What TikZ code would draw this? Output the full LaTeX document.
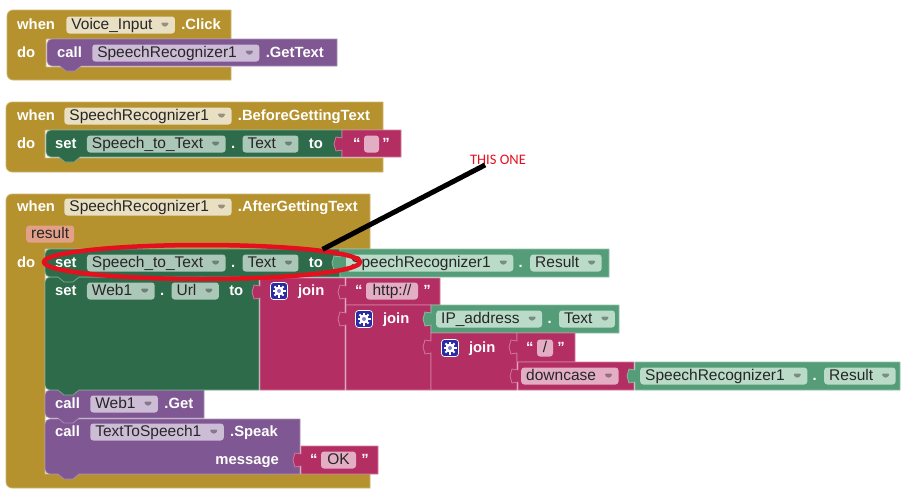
\documentclass[tikz,border=0pt]{standalone}
\usepackage{fontspec}
\setmainfont{Liberation Sans}
\newfontfamily\notefont{Carlito}
\usepackage{tikz}
\usetikzlibrary{positioning}
\usetikzlibrary{calc}
\usetikzlibrary{shapes.geometric}

\definecolor{hatgold}{HTML}{B5922E}
\definecolor{hatedge}{HTML}{CDB672}
\definecolor{pillgold}{HTML}{E9DFC2}
\definecolor{setgreen}{HTML}{2E6B4A}
\definecolor{setedge}{HTML}{7FA892}
\definecolor{pillgreen}{HTML}{ABC7B7}
\definecolor{getgreen}{HTML}{559C78}
\definecolor{getedge}{HTML}{8FC0A6}
\definecolor{pillmint}{HTML}{BADBC8}
\definecolor{callpurple}{HTML}{7F5792}
\definecolor{calledge}{HTML}{A98FB6}
\definecolor{pillpurple}{HTML}{CDBCD6}
\definecolor{textpink}{HTML}{B32E62}
\definecolor{textedge}{HTML}{D27FA0}
\definecolor{pillpink}{HTML}{E3AEC4}
\definecolor{argsalmon}{HTML}{E3A088}
\definecolor{gearblue}{HTML}{2B2BA3}
\definecolor{markred}{HTML}{E5101E}

\newcommand{\droptri}{\hspace{7.5pt}\tikz[baseline=0pt]\fill[black,opacity=.35] (0pt,7pt) -- (10pt,7pt) -- (5pt,1.5pt) -- cycle;}
% stacked statement block, with its tab at the bottom
\newcommand{\stmtblock}[5]{\draw[#1] (#4,#3) -- (#4,#5) -- (#2+34,#5) -- (#2+28,#5+5) -- (#2+19,#5+5) -- (#2+13,#5) [rounded corners=5pt] -- (#2,#5) -- (#2,#3) [sharp corners] -- cycle;}
% value block, with its plug on the left
\newcommand{\valblock}[5]{\draw[#1] (#2,#3) -- (#4,#3) -- (#4,#5) -- (#2,#5) -- (#2,#3+20) -- (#2-6,#3+21) -- (#2-8,#3+14) -- (#2-6,#3+7) -- (#2,#3+8) -- cycle;}
% hat block, C shaped round the blocks it holds
\newcommand{\hatblock}[6]{\draw[hat] (#3,#5) -- (#3,#6) [rounded corners=6pt] -- (#1,#6) -- (#1,#2) [sharp corners] -- (#3,#2) -- (#3,#4) -- (#1+39,#4) -- (#1+39,#5) -- cycle;}
\newcommand{\gearicon}[2]{
  \node[gearbox] (#1) at (#2) {};
  \foreach \a in {0,45,...,315} \draw[white,line width=2pt] (#1.center) -- ++(\a:6.5);
  \fill[white] (#1.center) circle (4.5);
  \fill[gearblue!60] (#1.center) circle (2);
}

\tikzset{
  hat/.style={fill=hatgold, draw=hatedge, line width=.7pt},
  setb/.style={fill=setgreen, draw=setedge, line width=.7pt},
  callb/.style={fill=callpurple, draw=calledge, line width=.7pt},
  getb/.style={fill=getgreen, draw=getedge, line width=.7pt},
  textb/.style={fill=textpink, draw=textedge, line width=.7pt},
  kw/.style={text=white, inner sep=0pt, text height=11.5pt, text depth=2.5pt, font=\bfseries\fontsize{14.8}{17}\selectfont},
  pill/.style={rounded corners=3pt, inner xsep=5pt, inner ysep=1.5pt, text=black!85, text height=11.5pt, text depth=2.5pt, font=\fontsize{15.5}{18}\selectfont},
  gpill/.style={pill, fill=pillgold},
  spill/.style={pill, fill=pillgreen},
  mpill/.style={pill, fill=pillmint},
  cpill/.style={pill, fill=pillpurple},
  tpill/.style={pill, fill=pillpink},
  gearbox/.style={draw=white, fill=gearblue, rounded corners=3pt, line width=.7pt, minimum size=17pt, inner sep=0pt},
}

\begin{document}
\begin{tikzpicture}[x=1pt,y=-1pt]
  \useasboundingbox (0,0) rectangle (916,501);

  % first handler
  \hatblock{7}{10}{231}{39}{67}{80}
  \stmtblock{callb}{47}{39}{337}{66}
  \node[kw, anchor=west] (when1) at (17,25) {when};
  \node[gpill, right=11pt of when1] (voice) {Voice\_Input\droptri};
  \node[kw, right=6pt of voice] (click) {.Click};
  \node[kw, anchor=west] (do1) at (17,53) {do};
  \node[kw, anchor=west] (call1) at (57,53) {call};
  \node[cpill, right=10pt of call1] (recog1) {SpeechRecognizer1\droptri};
  \node[kw, right=6pt of recog1] (gettext) {.GetText};

  % second handler
  \hatblock{6}{102}{383}{130}{158}{172}
  \stmtblock{setb}{46}{130}{342}{157}
  \valblock{textb}{342}{130}{401}{157}
  \node[kw, anchor=west] (when2) at (17,116) {when};
  \node[gpill, right=9pt of when2] (recog2) {SpeechRecognizer1\droptri};
  \node[kw, right=6pt of recog2] (before) {.BeforeGettingText};
  \node[kw, anchor=west] (do2) at (17,144) {do};
  \node[kw, anchor=west] (set2) at (55,144) {set};
  \node[spill, right=10pt of set2] (stt2) {Speech\_to\_Text\droptri};
  \node[kw, right=5pt of stt2] (dot2) {.};
  \node[spill, right=7pt of dot2] (text2) {Text\droptri};
  \node[kw, right=10pt of text2] (to2) {to};
  \node[kw, anchor=west] (open2) at (353,144) {“};
  \node[tpill, minimum width=15pt, right=3pt of open2] (empty2) {};
  \node[kw, right=3pt of empty2] (close2) {”};

  % third handler
  \hatblock{6}{194}{370}{249}{474}{488}
  \stmtblock{callb}{45}{419}{300}{474}
  \stmtblock{callb}{45}{390}{204}{418}
  \stmtblock{setb}{45}{277}{259}{390}
  \stmtblock{setb}{45}{249}{340}{277}
  \valblock{getb}{340}{249}{609}{277}
  \valblock{textb}{260}{278}{345}{390}
  \valblock{textb}{346}{278}{440}{305}
  \valblock{textb}{346}{305}{431}{390}
  \valblock{getb}{431}{305}{619}{333}
  \valblock{textb}{431}{333}{517}{390}
  \valblock{textb}{517}{333}{575}{362}
  \valblock{textb}{518}{362}{634}{390}
  \valblock{getb}{635}{362}{900}{390}
  \valblock{textb}{301}{446}{378}{474}

  \node[kw, anchor=west] (when3) at (17,207) {when};
  \node[gpill, right=9pt of when3] (recog3) {SpeechRecognizer1\droptri};
  \node[kw, right=6pt of recog3] (after) {.AfterGettingText};
  \node[pill, fill=argsalmon, anchor=west] (result) at (26,234) {result};
  \node[kw, anchor=west] (do3) at (17,263) {do};
  \node[kw, anchor=west] (set3) at (55,263) {set};
  \node[spill, right=10pt of set3] (stt3) {Speech\_to\_Text\droptri};
  \node[kw, right=5pt of stt3] (dot3) {.};
  \node[spill, right=7pt of dot3] (text3) {Text\droptri};
  \node[kw, right=10pt of text3] (to3) {to};
  \node[mpill, anchor=west] (recog4) at (346,263) {SpeechRecognizer1\droptri};
  \node[kw, right=5pt of recog4] (dot4) {.};
  \node[mpill, right=7pt of dot4] (res4) {Result\droptri};

  \node[kw, anchor=west] (set5) at (55,291) {set};
  \node[spill, right=10pt of set5] (web5) {Web1\droptri};
  \node[kw, right=5pt of web5] (dot5) {.};
  \node[spill, right=7pt of dot5] (url5) {Url\droptri};
  \node[kw, right=10pt of url5] (to5) {to};
  \gearicon{gearA}{279,291}
  \node[kw, right=10pt of gearA] (joinA) {join};
  \node[kw, anchor=west] (open6) at (355,291) {“};
  \node[tpill, minimum width=52pt, right=3pt of open6] (http) {http://};
  \node[kw, right=5pt of http] (close6) {”};

  \gearicon{gearB}{364,319}
  \node[kw, right=10pt of gearB] (joinB) {join};
  \node[mpill, anchor=west] (ip) at (436,319) {IP\_address\droptri};
  \node[kw, right=5pt of ip] (dot7) {.};
  \node[mpill, right=7pt of dot7] (text7) {Text\droptri};

  \gearicon{gearC}{450,348}
  \node[kw, right=10pt of gearC] (joinC) {join};
  \node[kw, anchor=west] (open8) at (526,348) {“};
  \node[tpill, minimum width=16pt, right=3pt of open8, inner xsep=3pt] (slash) {/};
  \node[kw, right=4pt of slash] (close8) {”};

  \node[tpill, anchor=west] (down) at (521,376) {downcase\droptri};
  \node[mpill, anchor=west] (recog9) at (640,376) {SpeechRecognizer1\droptri};
  \node[kw, right=5pt of recog9] (dot9) {.};
  \node[mpill, right=7pt of dot9] (res9) {Result\droptri};

  \node[kw, anchor=west] (call10) at (55,404) {call};
  \node[cpill, right=10pt of call10] (web10) {Web1\droptri};
  \node[kw, right=6pt of web10] (get10) {.Get};

  \node[kw, anchor=west] (call11) at (55,432) {call};
  \node[cpill, right=10pt of call11] (tts) {TextToSpeech1\droptri};
  \node[kw, right=6pt of tts] (speak) {.Speak};
  \node[kw, anchor=east] (msg) at (279,460) {message};
  \node[kw, anchor=west] (open12) at (310,460) {“};
  \node[tpill, minimum width=35pt, right=3pt of open12] (ok) {OK};
  \node[kw, right=5pt of ok] (close12) {”};

  % the mark made on top of the screenshot
  \node[draw=markred, line width=4.5pt, ellipse, minimum width=316pt, minimum height=34pt, inner sep=0pt] (ring) at (202,262) {};
  \node[text=markred, inner sep=0pt, font=\notefont\fontsize{14.5}{17}\selectfont] (thisone) at (498,160) {THIS ONE};
  \draw[line width=5pt] ($(thisone.south west)!.27!(thisone.south east)$) -- (ring.6);
\end{tikzpicture}
\end{document}
